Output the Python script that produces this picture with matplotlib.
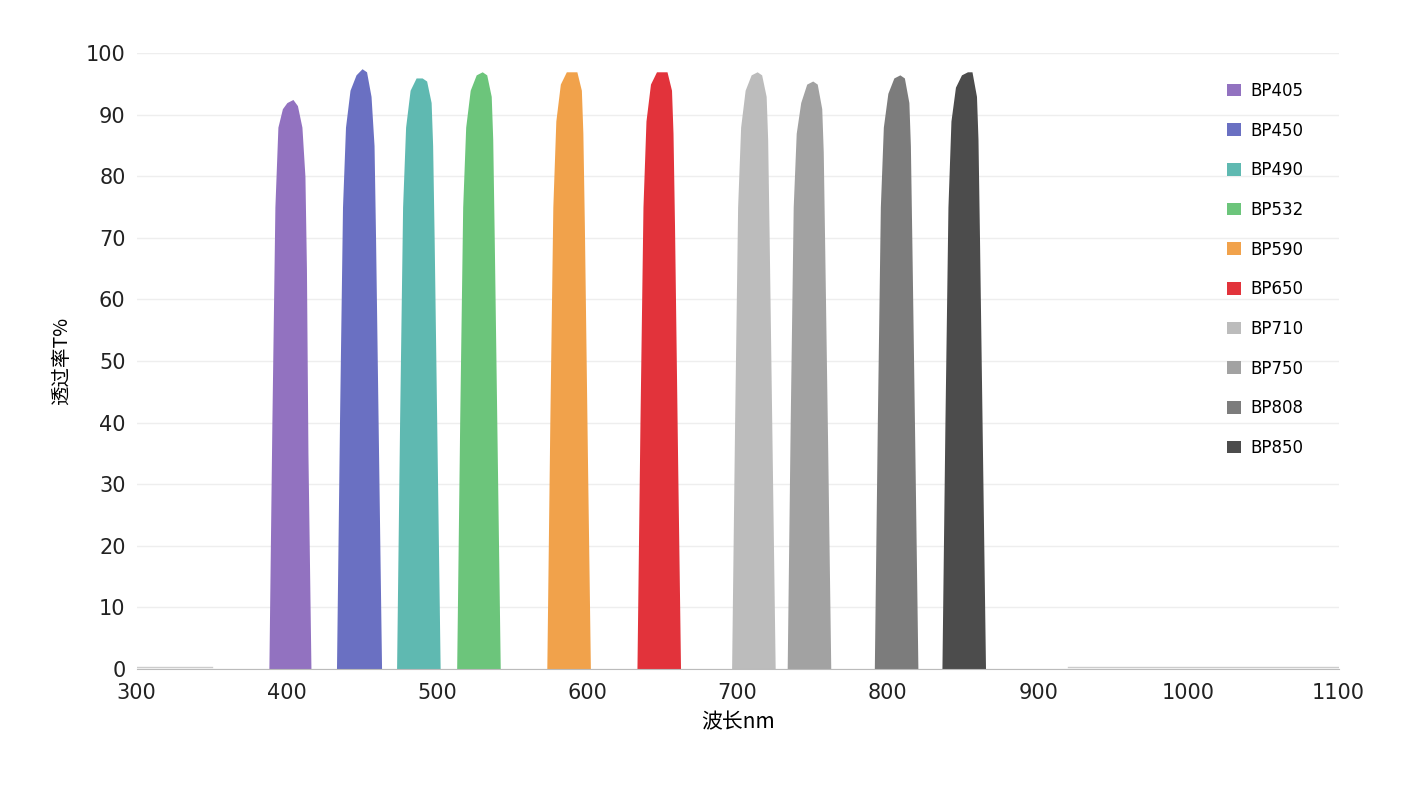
import matplotlib
matplotlib.use("Agg")
import matplotlib.pyplot as plt

plt.rcParams['font.family'] = ['DejaVu Sans', 'Noto Sans CJK SC']

names = ["BP405","BP450","BP490","BP532","BP590","BP650","BP710","BP750","BP808","BP850"]
colors = ["#9272c0","#6a70c2","#5fb9b1","#6cc57b","#f1a24b","#e2333b","#bcbcbc","#a2a2a2","#7c7c7c","#4c4c4c"]
# wavelength points for each band (nm) and transmittance (%)
wl = [
    [388,390,392,394,397,400,404,407,410,412,413,414,416],
    [433,435,437,439,442,446,450,453,456,458,459,461,463],
    [473,475,477,479,482,486,490,493,496,497,498,500,502],
    [513,515,517,519,522,526,530,533,536,537,538,540,542],
    [573,575,577,579,582,586,590,593,596,597,598,600,602],
    [633,635,637,639,642,646,650,653,656,657,658,660,662],
    [696,698,700,702,705,709,713,716,719,720,721,723,725],
    [733,735,737,739,742,746,750,753,756,757,758,760,762],
    [791,793,795,797,800,804,808,811,814,815,816,818,820],
    [836,838,840,842,845,849,853,856,859,860,861,863,865],
]
tr = [
    [0,40,75,88,91,92,92.5,91.5,88,80,65,35,0],
    [0,40,75,88,94,96.5,97.5,97,93,85,70,35,0],
    [0,40,75,88,94,96,96,95.5,92,85,70,35,0],
    [0,40,75,88,94,96.5,97,96.5,93,86,70,35,0],
    [0,40,75,89,95,97,97,97,94,87,72,35,0],
    [0,40,75,89,95,97,97,97,94,87,72,35,0],
    [0,40,75,88,94,96.5,97,96.5,93,86,70,35,0],
    [0,40,75,87,92,95,95.5,95,91,84,68,35,0],
    [0,40,75,88,93.5,96,96.5,96,92,85,69,35,0],
    [0,40,75,89,94.5,96.5,97,97,93,86,70,35,0],
]

fig = plt.figure(figsize=(14.09,7.96), dpi=100)
ax = fig.add_axes([0.097,0.16,0.853,0.773])
for n,c,x,y in zip(names,colors,wl,tr):
    ax.fill_between(x,y,0,color=c,label=n,lw=0)
ax.plot([300,350],[0.2,0.2],color="#cccccc",lw=1)
ax.plot([920,1100],[0.2,0.2],color="#cccccc",lw=1)
ax.set_xlim(300,1100)
ax.set_ylim(0,100)
ax.set_xticks(range(300,1101,100))
ax.set_yticks(range(0,101,10))
ax.grid(axis='y',color="#eeeeee",lw=1)
ax.set_axisbelow(True)
for s in ["top","right","left"]:
    ax.spines[s].set_visible(False)
ax.spines["bottom"].set_color("#bbbbbb")
ax.tick_params(length=0,labelsize=15,colors="#222222")
ax.tick_params(axis='x',pad=10)
ax.tick_params(axis='y',pad=8)
ax.set_xlabel("波长nm",fontsize=15,labelpad=6,family=['Noto Sans CJK SC','DejaVu Sans'])
ax.set_ylabel("透过率T%",fontsize=14,labelpad=10,family=['Noto Sans CJK SC','DejaVu Sans'])
leg = ax.legend(loc="upper left",bbox_to_anchor=(0.895,0.978),frameon=False,
                fontsize=12,handlelength=0.8,handleheight=0.8,labelspacing=1.3,handletextpad=0.6)
fig.savefig("out.png",dpi=100)
